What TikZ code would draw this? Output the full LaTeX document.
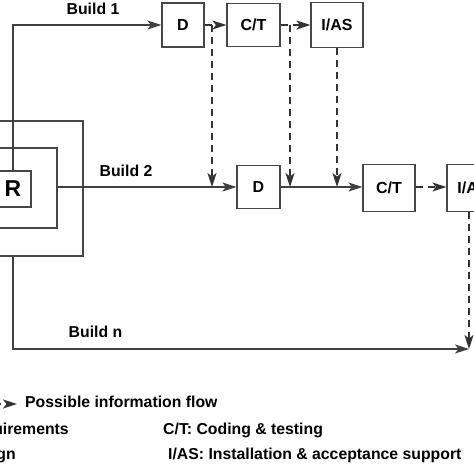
\documentclass[tikz,border=0pt]{standalone}
\usepackage{fontspec}
\setmainfont{Liberation Sans}
\usetikzlibrary{arrows.meta}
\tikzset{
  phase/.style={draw=black!72, line width=1.2pt, inner sep=0pt,
    font=\bfseries\fontsize{16}{18}\selectfont},
  flow/.style={draw=black!75, line width=1.2pt, -{Stealth[length=14pt,width=9pt,inset=3.5pt]}},
  info/.style={flow, line width=1.5pt, draw=black!80, dash pattern=on 7pt off 5pt},
  buildtext/.style={inner sep=0pt, font=\bfseries\fontsize{15.8}{18}\selectfont},
  legendtext/.style={inner sep=0pt, font=\bfseries\fontsize{15.8}{18}\selectfont},
}
\begin{document}
\begin{tikzpicture}[x=1pt,y=1pt]
        \useasboundingbox (0,0) rectangle (474,474);
        \clip (0,0) rectangle (474,474);
        % requirements
        \node[phase, minimum width=140, minimum height=135] (outer) at (13,285.5) {};
        \node[phase, minimum width=88, minimum height=80] (mid) at (13,286) {};
        \node[phase, minimum width=36, minimum height=36, font=\bfseries\fontsize{23}{26}\selectfont] (r) at (13,285) {R};
        % build 1
        \node[phase, minimum width=42, minimum height=44] (d1) at (183,449) {D};
        \node[phase, minimum width=53, minimum height=43] (ct1) at (253.5,449) {C/T};
        \node[phase, minimum width=52, minimum height=45] (ias1) at (337,449) {I/AS};
        % build 2
        \node[phase, minimum width=43, minimum height=43] (d2) at (258.5,287) {D};
        \node[phase, minimum width=52, minimum height=47] (ct2) at (389,286) {C/T};
        \node[phase, minimum width=52, minimum height=47] (ias2) at (473,286) {I/AS};
        \coordinate (x1) at (212,449);
        \coordinate (x2) at (290,449);
        \coordinate (nend) at (469,125);
        \draw[flow] (r.north) |- (d1.west);
        \draw[flow] (mid.east |- d2.west) -- (d2.west);
        \draw[flow] (outer.south) |- (nend);
        \node[buildtext, anchor=base] (b1) at (93,459) {Build 1};
        \node[buildtext, anchor=base] (b2) at (126,297) {Build 2};
        \node[buildtext, anchor=base] (bn) at (95.5,136) {Build n};
        \draw[info] (d1.east) -- (ct1.west);
        \draw[info] (ct1.east) -- (ias1.west);
        \draw[info] (x1) -- (x1 |- d2.west);
        \draw[info] (x2) -- (x2 |- d2.east);
        \draw[info] (ias1.south) -- (ias1.south |- d2.east);
        \draw[flow] (d2.east) -- (d2.east -| ct2.west);
        \draw[info] (ct2.east |- d2.east) -- (d2.east -| ias2.west);
        \draw[info] (ias2.south -| nend) -- (nend);
        % legend
        \draw[info] (-30,70) -- (17,70);
        \node[legendtext, anchor=base west] (lf) at (25,66) {Possible information flow};
        \node[legendtext, anchor=base east] (lr) at (69,39) {R: Requirements};
        \node[legendtext, anchor=base east] (ld) at (16,14) {D: Design};
        \node[legendtext, anchor=base west] (lct) at (163,39) {C/T: Coding \& testing};
        \node[legendtext, anchor=base west] (lias) at (168,14) {I/AS: Installation \& acceptance support};
\end{tikzpicture}
\end{document}
